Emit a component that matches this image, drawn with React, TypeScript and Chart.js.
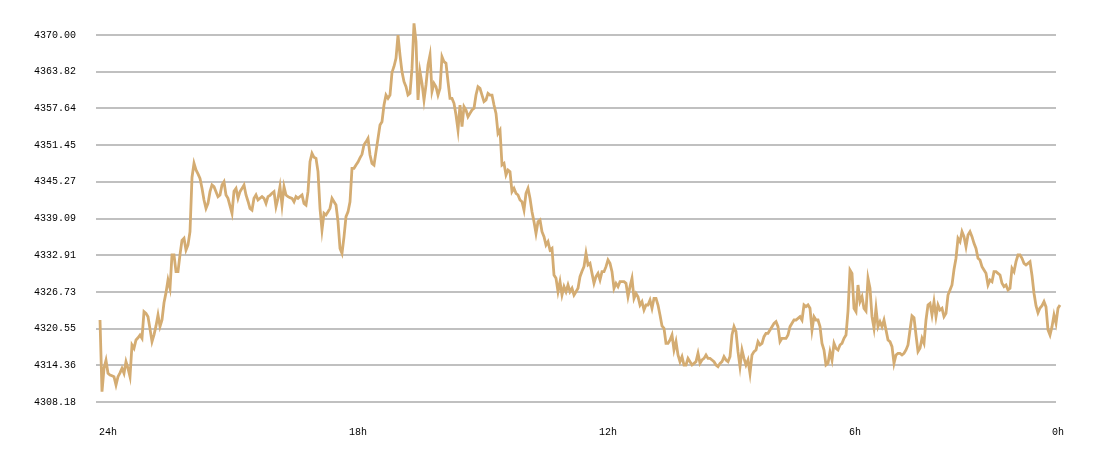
import React, { useEffect, useRef } from 'react';
import { Chart, registerables } from 'chart.js';

Chart.register(...registerables);

// Price samples, one every 3 minutes, oldest first (24h ago -> 12h ago)
const pricesFirstHalf = [
  4321.99, 4309.92, 4313.85, 4315.2, 4313.01, 4312.73, 4312.6, 4312.45, 4311.04, 4312.45,
  4313.1, 4313.85, 4313.01, 4314.97, 4313.85, 4312.45, 4317.78, 4317.22, 4318.62, 4319.0,
  4319.46, 4318.9, 4323.4, 4323.11, 4322.55, 4320.5, 4318.34, 4319.5, 4321.0, 4322.83,
  4320.9, 4322.0, 4324.9, 4326.6, 4328.73, 4327.33, 4332.94, 4332.94, 4330.13, 4330.13,
  4333.0, 4335.4, 4335.75, 4333.78, 4334.63, 4336.87, 4346.0, 4348.38, 4347.26, 4346.6,
  4345.86, 4344.17, 4342.2, 4340.8, 4341.64, 4343.61, 4344.73, 4344.45, 4343.6, 4342.77,
  4343.05, 4344.73, 4345.29, 4343.05, 4342.49, 4341.2, 4339.96, 4343.7, 4344.17, 4342.49,
  4343.61, 4344.17, 4344.73, 4343.05, 4342.0, 4340.8, 4340.52, 4342.49, 4343.05, 4342.21,
  4342.5, 4342.77, 4342.49, 4341.64, 4342.77, 4343.0, 4343.33, 4343.61, 4341.08, 4342.49,
  4344.45, 4341.36, 4344.45, 4343.05, 4342.77, 4342.6, 4342.49, 4341.92, 4342.77, 4342.49,
  4342.8, 4343.05, 4341.64, 4341.36, 4343.61, 4348.66, 4350.07, 4349.4, 4349.22, 4346.98,
  4340.8, 4337.15, 4339.96, 4339.68, 4340.24, 4340.8, 4342.49, 4341.92, 4341.36, 4338.56,
  4334.06, 4333.22, 4336.0, 4339.4, 4340.2, 4341.9, 4347.54, 4347.54, 4348.1, 4348.6,
  4349.3, 4349.9, 4351.5, 4352.0, 4352.59, 4349.79, 4348.38, 4348.1, 4350.35, 4352.59,
  4354.84, 4355.4, 4358.21, 4359.89, 4359.33, 4359.89, 4363.7, 4364.7, 4366.07, 4370.0,
  4366.63, 4363.8, 4362.14, 4361.3, 4359.89, 4360.17, 4364.38, 4371.97, 4368.88, 4359.05,
  4363.82, 4361.86, 4359.05, 4361.58, 4364.95, 4366.63, 4360.5, 4361.86, 4361.3, 4359.89,
  4361.02, 4366.35, 4365.51, 4365.23, 4362.14, 4359.33, 4359.33, 4358.49, 4356.52, 4354.0,
  4358.21, 4354.56, 4357.93, 4357.37, 4356.24, 4356.8, 4357.37, 4357.65, 4359.89, 4361.3,
  4361.02, 4359.89, 4358.77, 4359.05, 4360.17, 4359.89, 4359.89, 4358.21, 4356.8, 4353.44,
  4354.0, 4348.1, 4348.38, 4346.42, 4347.26, 4346.98, 4343.61, 4344.17, 4343.33, 4343.05,
  4342.21, 4341.92, 4340.52, 4343.33, 4344.17, 4342.49, 4340.24, 4338.56, 4336.59, 4338.56,
  4338.84, 4336.87, 4336.03, 4334.63, 4335.19, 4333.78, 4334.06, 4329.57, 4329.01, 4326.76,
  4328.45, 4326.2, 4327.61, 4326.76, 4327.89, 4326.76, 4327.33, 4326.2, 4326.76, 4327.33,
  4329.29,
];

// 12h ago -> now
const pricesSecondHalf = [
  4330.2, 4331.0, 4333.22, 4331.26, 4331.54, 4329.85, 4328.17, 4329.29, 4329.85, 4328.73,
  4330.13, 4330.13, 4330.98, 4332.1, 4331.54, 4330.13, 4327.33, 4328.17, 4327.61, 4328.45,
  4328.45, 4328.45, 4328.17, 4325.92, 4327.61, 4329.01, 4325.64, 4326.48, 4325.92, 4324.52,
  4325.08, 4323.68, 4324.52, 4324.52, 4325.36, 4323.96, 4325.64, 4325.64, 4324.52, 4322.83,
  4321.0, 4320.59, 4318.06, 4318.06, 4318.62, 4319.46, 4316.94, 4318.34, 4316.1, 4314.97,
  4315.82, 4314.41, 4314.41, 4315.53, 4314.97, 4314.41, 4314.69, 4314.97, 4316.38, 4314.69,
  4315.25, 4315.53, 4316.1, 4315.53, 4315.53, 4315.25, 4314.97, 4314.41, 4314.13, 4314.69,
  4314.97, 4315.82, 4315.25, 4314.97, 4315.82, 4319.46, 4320.87, 4320.03, 4316.66, 4314.13,
  4316.94, 4315.53, 4314.41, 4315.25, 4313.01, 4316.1, 4316.66, 4316.94, 4318.34, 4317.78,
  4318.06, 4319.18, 4319.75, 4319.75, 4320.31, 4320.87, 4321.43, 4321.71, 4320.87, 4318.34,
  4318.9, 4318.9, 4318.9, 4319.46, 4320.87, 4321.43, 4321.99, 4321.99, 4322.27, 4322.55,
  4321.99, 4324.52, 4324.24, 4324.52, 4323.96, 4320.31, 4322.55, 4321.99, 4321.99, 4320.87,
  4318.06, 4316.94, 4314.41, 4314.69, 4316.66, 4315.25, 4318.06, 4317.22, 4316.94, 4317.78,
  4318.06, 4318.9, 4319.46, 4323.5, 4330.41, 4329.85, 4323.96, 4323.4, 4327.89, 4325.08,
  4325.92, 4323.96, 4323.5, 4329.01, 4327.33, 4322.55, 4320.59, 4323.96, 4320.87, 4321.71,
  4320.87, 4321.99, 4320.31, 4318.62, 4318.34, 4317.5, 4314.69, 4316.1, 4316.38, 4316.38,
  4316.1, 4316.38, 4316.94, 4317.78, 4320.31, 4322.7, 4322.4, 4319.46, 4316.66, 4317.22,
  4318.9, 4318.06, 4322.0, 4324.52, 4324.8, 4322.83, 4325.08, 4322.55, 4324.52, 4323.68,
  4323.96, 4322.55, 4323.11, 4326.2, 4327.05, 4327.89, 4330.5, 4332.4, 4335.75, 4335.19,
  4336.87, 4336.03, 4334.34, 4336.31, 4336.87, 4336.03, 4334.91, 4334.06, 4332.38, 4332.1,
  4330.98, 4330.41, 4329.85, 4327.89, 4328.73, 4328.45, 4330.13, 4330.13, 4329.85, 4329.57,
  4328.17, 4327.61, 4327.89, 4327.05, 4327.33, 4330.69, 4330.13, 4331.82, 4332.94, 4332.94,
  4332.38, 4331.54, 4331.26, 4331.54, 4331.82, 4329.5, 4326.5, 4324.4, 4323.2, 4324.0,
  4324.4, 4325.1, 4324.2, 4320.31, 4319.46, 4320.87, 4322.83, 4321.43, 4323.96, 4324.52,
];

const yTickValues = [
  4308.18, 4314.36, 4320.55, 4326.73, 4332.91, 4339.09, 4345.27, 4351.45, 4357.64, 4363.82, 4370.0,
];
const xTickLabels = ['24h', '18h', '12h', '6h', '0h'];
// sample index at which each label is centred
const xTickSamples = [4, 129, 254, 377.5, 479];
// visible sample range of the x axis (grid spans this; the line runs slightly past it)
const X_MIN = -2;
const X_MAX = 478;

const FONT = "'Liberation Mono', 'DejaVu Sans Mono', monospace";

export default function App() {
  const ref = useRef<HTMLCanvasElement>(null);

  useEffect(() => {
    const prices = [...pricesFirstHalf, ...pricesSecondHalf];
    const chart = new Chart(ref.current as HTMLCanvasElement, {
      type: 'line',
      data: {
        datasets: [
          {
            data: prices.map((p, i) => ({ x: i, y: p })),
            borderColor: 'rgb(212,172,114)',
            borderWidth: 2.8,
            pointRadius: 0,
            tension: 0,
            fill: false,
            clip: false,
          } as any,
        ],
      },
      options: {
        responsive: false,
        animation: false,
        devicePixelRatio: 1,
        layout: { padding: { top: 20, right: 44, left: 0, bottom: 0 } },
        plugins: { legend: { display: false }, tooltip: { enabled: false } },
        scales: {
          x: {
            type: 'linear',
            bounds: 'data',
            grid: { display: false, drawTicks: false },
            border: { display: false },
            ticks: {
              autoSkip: false,
              maxRotation: 0,
              minRotation: 0,
              padding: 16,
              color: '#000',
              font: { family: FONT, size: 10 },
              callback: (_v: any, i: number) => xTickLabels[i] ?? '',
            },
            afterDataLimits: (s: any) => {
              s.min = X_MIN;
              s.max = X_MAX;
            },
            afterBuildTicks: (s: any) => {
              s.min = X_MIN;
              s.max = X_MAX;
              s.ticks = xTickSamples.map((v) => ({ value: v }));
            },
            afterFit: (s: any) => {
              s.height = 48;
              s.paddingLeft = 0;
              s.paddingRight = 0;
            },
          },
          y: {
            type: 'linear',
            min: 4306.83,
            max: 4372.53,
            grid: { color: '#c0c0c0', lineWidth: 2, drawTicks: false },
            border: { display: false },
            ticks: {
              padding: 20,
              color: '#000',
              font: { family: FONT, size: 10 },
              callback: (v: any) => Number(v).toFixed(2),
            },
            afterBuildTicks: (s: any) => {
              s.ticks = yTickValues.map((v) => ({ value: v }));
            },
            afterFit: (s: any) => {
              s.width = 96;
              s.paddingTop = 0;
              s.paddingBottom = 0;
            },
          },
        },
      } as any,
    });
    return () => chart.destroy();
  }, []);

  return (
    <div style={{ position: 'absolute', left: 0, top: 0, width: 1100, height: 458 }}>
      <canvas ref={ref} width={1100} height={458} style={{ display: 'block' }} />
    </div>
  );
}
